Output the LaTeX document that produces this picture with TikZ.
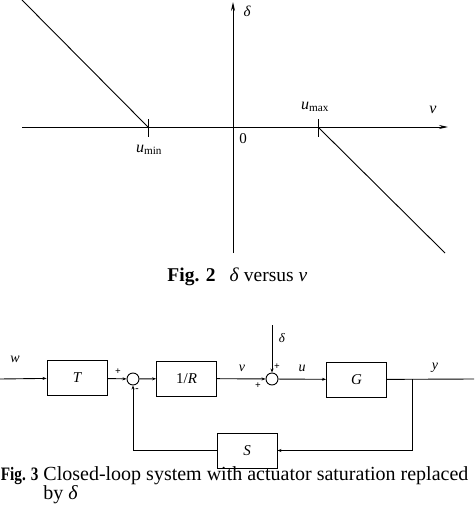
\documentclass[tikz,border=0pt]{standalone}
\usepackage{fontspec}
\setmainfont{Liberation Serif}
\usetikzlibrary{arrows.meta}
\begin{document}
\begin{tikzpicture}[x=1pt,y=-1pt,line width=0.9pt,
  blk/.style={draw,minimum width=60pt,minimum height=35pt,inner sep=0pt,font=\fontsize{15}{15}\selectfont\itshape},
  sumc/.style={draw,circle,minimum size=12pt,inner sep=0pt},
  lbl/.style={inner sep=0pt,font=\fontsize{14}{14}\selectfont\itshape},
  sgn/.style={inner sep=0pt,font=\fontsize{10}{10}\selectfont\bfseries},
  arr/.style={-{Stealth[length=4pt,width=3pt]}},
  axarr/.style={-{Stealth[length=9pt,width=4pt]}},
  captxt/.style={inner sep=0pt,anchor=base west,font=\fontsize{19.5}{19.5}\selectfont}]
\useasboundingbox (0,0) rectangle (474,511);
% ---------- Fig. 2 ----------
\coordinate (xl) at (22,127);
\coordinate (xr) at (448,127);
\coordinate (yt) at (233,2);
\coordinate (yb) at (233,253);
\coordinate (umin) at (148,127);
\coordinate (umax) at (318,127);
\coordinate (ls) at (22,0);
\coordinate (re) at (445,253);
\draw[axarr] (xl) -- (xr);
\draw[axarr] (yb) -- (yt);
\draw (148,119) -- (148,137);
\draw (318,119) -- (318,137);
\draw (ls) -- (umin);
\draw (umax) -- (re);
\node[lbl,font=\fontsize{15}{15}\selectfont\itshape] (dl) at (247,11) {δ};
\node[lbl,font=\fontsize{16}{16}\selectfont\itshape] (vl) at (433,110) {v};
\node[lbl,font=\fontsize{15}{15}\selectfont] (zl) at (243,139) {0};
\node[lbl,font=\fontsize{16}{16}\selectfont] (uminl) at (149,150) {\textit{u}\textsubscript{min}};
\node[lbl,font=\fontsize{16}{16}\selectfont] (umaxl) at (315,107) {\textit{u}\textsubscript{max}};
\node[captxt] (c2) at (167,281) {\textbf{Fig. 2}\hspace{14pt}\textit{δ} versus \textit{v}};
% ---------- Fig. 3 ----------
\node[blk] (T) at (77,378) {T};
\node[sumc] (s1) at (133,379) {};
\node[blk] (R) at (186.5,378.5) {\upshape 1/\itshape R};
\node[sumc] (s2) at (272,379) {};
\node[blk] (G) at (356.5,379.5) {G};
\node[blk] (S) at (247,450.5) {S};
\coordinate (in) at (0,379);
\coordinate (out) at (474,379);
\coordinate (br) at (412,379);
\coordinate (dtop) at (272,325);
\draw[arr] (in) -- (T);
\draw[arr] (T) -- (s1);
\draw[arr] (s1) -- (R);
\draw[arr] (R) -- (s2);
\draw[arr] (s2) -- (G);
\draw (G) -- (out);
\draw[arr] (br) |- (S.east);
\draw[arr] (S.west) -| (s1.south);
\draw[arr] (dtop) -- (s2.north);
\node[lbl] (wl) at (15,359) {w};
\node[lbl] (vl2) at (242,368) {v};
\node[lbl] (ul) at (302,368) {u};
\node[lbl] (yl) at (435,368) {y};
\node[lbl,font=\fontsize{13}{13}\selectfont\itshape] (dl2) at (282,338) {δ};
\node[sgn] (p1) at (118,372) {+};
\node[sgn] (m1) at (137,390) {-};
\node[sgn] (p2) at (277,367) {+};
\node[sgn] (p3) at (258,386) {+};
\node[captxt] (c3a) at (0.5,480) {\scalebox{0.8}[1]{\fontsize{19}{19}\selectfont\bfseries Fig. 3}};
\node[captxt,font=\fontsize{20}{20}\selectfont] (c3b) at (43,480) {Closed-loop system with actuator saturation replaced};
\node[captxt,font=\fontsize{20}{20}\selectfont] (c3c) at (43,499) {by \textit{δ}};
\end{tikzpicture}
\end{document}
